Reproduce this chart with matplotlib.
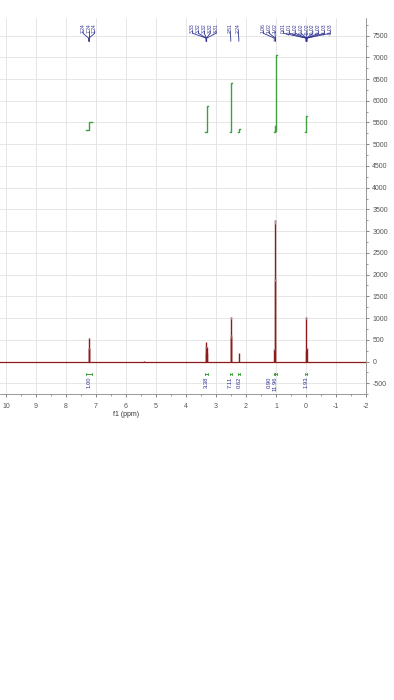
import matplotlib
matplotlib.use('Agg')
import matplotlib.pyplot as plt
import numpy as np

plt.rcParams['font.family'] = ['Liberation Sans', 'DejaVu Sans']
plt.rcParams['axes.unicode_minus'] = False

# spectrum lines (ppm, intensity)
peak_ppm = [7.245, 7.240, 7.236, 5.40, 3.333, 3.325, 3.320, 3.316, 3.310,
            2.515, 2.508, 2.500, 2.240, 1.060, 1.022, 1.018, 0.006, -0.002, -0.020]
peak_height = [300, 550, 320, 15, 200, 330, 460, 340, 190,
               600, 1020, 560, 200, 280, 3260, 1900, 250, 1020, 300]

# picked peak labels
label_text = ['7.24', '7.24', '7.24',
              '3.33', '3.32', '3.32', '3.32', '3.31',
              '2.51', '2.24',
              '1.06', '1.02', '1.02',
              '0.01', '-0.01', '-0.02', '-0.02', '-0.02', '-0.02', '-0.02', '-0.03', '-0.03']
label_ppm = [7.245, 7.240, 7.236,
             3.333, 3.324, 3.320, 3.317, 3.311,
             2.508, 2.240,
             1.060, 1.022, 1.018,
             0.006, -0.010, -0.016, -0.018, -0.020, -0.022, -0.024, -0.026, -0.030]

# integrals
int_start = [7.33, 3.37, 2.55, 2.27, 1.08, 1.045, 0.04]
int_end = [7.15, 3.27, 2.47, 2.21, 1.045, 0.98, -0.04]
int_center = [7.24, 3.32, 2.51, 2.24, 1.06, 1.02, 0.00]
int_low = [5330, 5290, 5290, 5290, 5290, 5300, 5290]
int_high = [5500, 5870, 6420, 5350, 5430, 7060, 5640]
int_values = ['1.00', '3.38', '7.11', '0.62', '0.90', '11.96', '1.93']

red = '#8e1b1b'
navy = '#2e3192'
green = '#3fa03f'

fig = plt.figure(figsize=(3.94, 7.0), dpi=100)
ax = fig.add_axes([0.0, 0.437, 0.929, 0.537])

ax.set_xlim(10.2, -2.0)
ax.set_ylim(-745, 7900)

# baseline + peaks
ax.plot([10.2, -2.0], [0, 0], color=red, lw=0.9, zorder=3)
ax.vlines(peak_ppm, 0, peak_height, color=red, lw=1.0, zorder=3)
tips = np.array(peak_height)
ax.vlines(peak_ppm, tips - np.maximum(tips * 0.03, 5), tips, color='#9a9ab8', lw=1.0, zorder=4)

# integral curves
for s, e, c, lo, hi in zip(int_start, int_end, int_center, int_low, int_high):
    ax.plot([s, c - 0.01, c - 0.01, e], [lo, lo, hi, hi], color=green, lw=1.0, zorder=5)

# integral brackets + values below the baseline
shift = [0, 0, 0, 0, 0.17, 0, 0]
for s, e, c, v, sh in zip(int_start, int_end, int_center, int_values, shift):
    ax.plot([s, e], [-290, -290], color=green, lw=0.7)
    ax.plot([s, s], [-260, -320], color=green, lw=0.6)
    ax.plot([e, e], [-260, -320], color=green, lw=0.6)
    ax.text(c + sh, -355, v, rotation=90, ha='center', va='top',
            fontsize=4.2, color=navy)

# peak labels at the top with connector lines
tr = ax.get_xaxis_transform()
groups = [[0]]
for i in range(1, len(label_ppm)):
    if abs(label_ppm[i] - label_ppm[i - 1]) > 0.1:
        groups.append([i])
    else:
        groups[-1].append(i)
group_mid = [7.24, 3.39, 2.53, 2.26, 1.23, -0.03]
spacing = 0.195
for g, mid in zip(groups, group_mid):
    n = len(g)
    for k, i in enumerate(g):
        lx = mid + spacing * ((n - 1) / 2 - k)
        ax.text(lx, 0.987, label_text[i], transform=tr, rotation=90,
                ha='center', va='top', fontsize=3.6, color=navy)
        ax.plot([lx, lx, label_ppm[i], label_ppm[i]], [0.966, 0.960, 0.947, 0.939],
                transform=tr, color=navy, lw=0.6)

# axes styling
ax.set_xticks(range(10, -3, -1))
ax.set_xticks(np.arange(10, -2.01, -0.5), minor=True)
ax.set_yticks(range(-500, 7501, 500))
ax.set_yticks(range(-750, 7800, 250), minor=True)
ax.yaxis.tick_right()
ax.tick_params(axis='both', labelsize=5, colors='#555555', length=2.5, width=0.5)
ax.tick_params(axis='both', which='minor', length=1.5, width=0.4, colors='#555555')
ax.tick_params(axis='y', pad=2)
ax.tick_params(axis='x', pad=4)
ax.grid(True, color='#e2e2e2', lw=0.6)
ax.set_axisbelow(True)
for side in ['top', 'left']:
    ax.spines[side].set_visible(False)
for side in ['bottom', 'right']:
    ax.spines[side].set_color('#888888')
    ax.spines[side].set_linewidth(0.6)

ax.set_xlabel('f1 (ppm)', fontsize=5, color='#333333')
ax.xaxis.set_label_coords(0.345, -0.045)

fig.savefig('out.png', dpi=100, facecolor='white')
